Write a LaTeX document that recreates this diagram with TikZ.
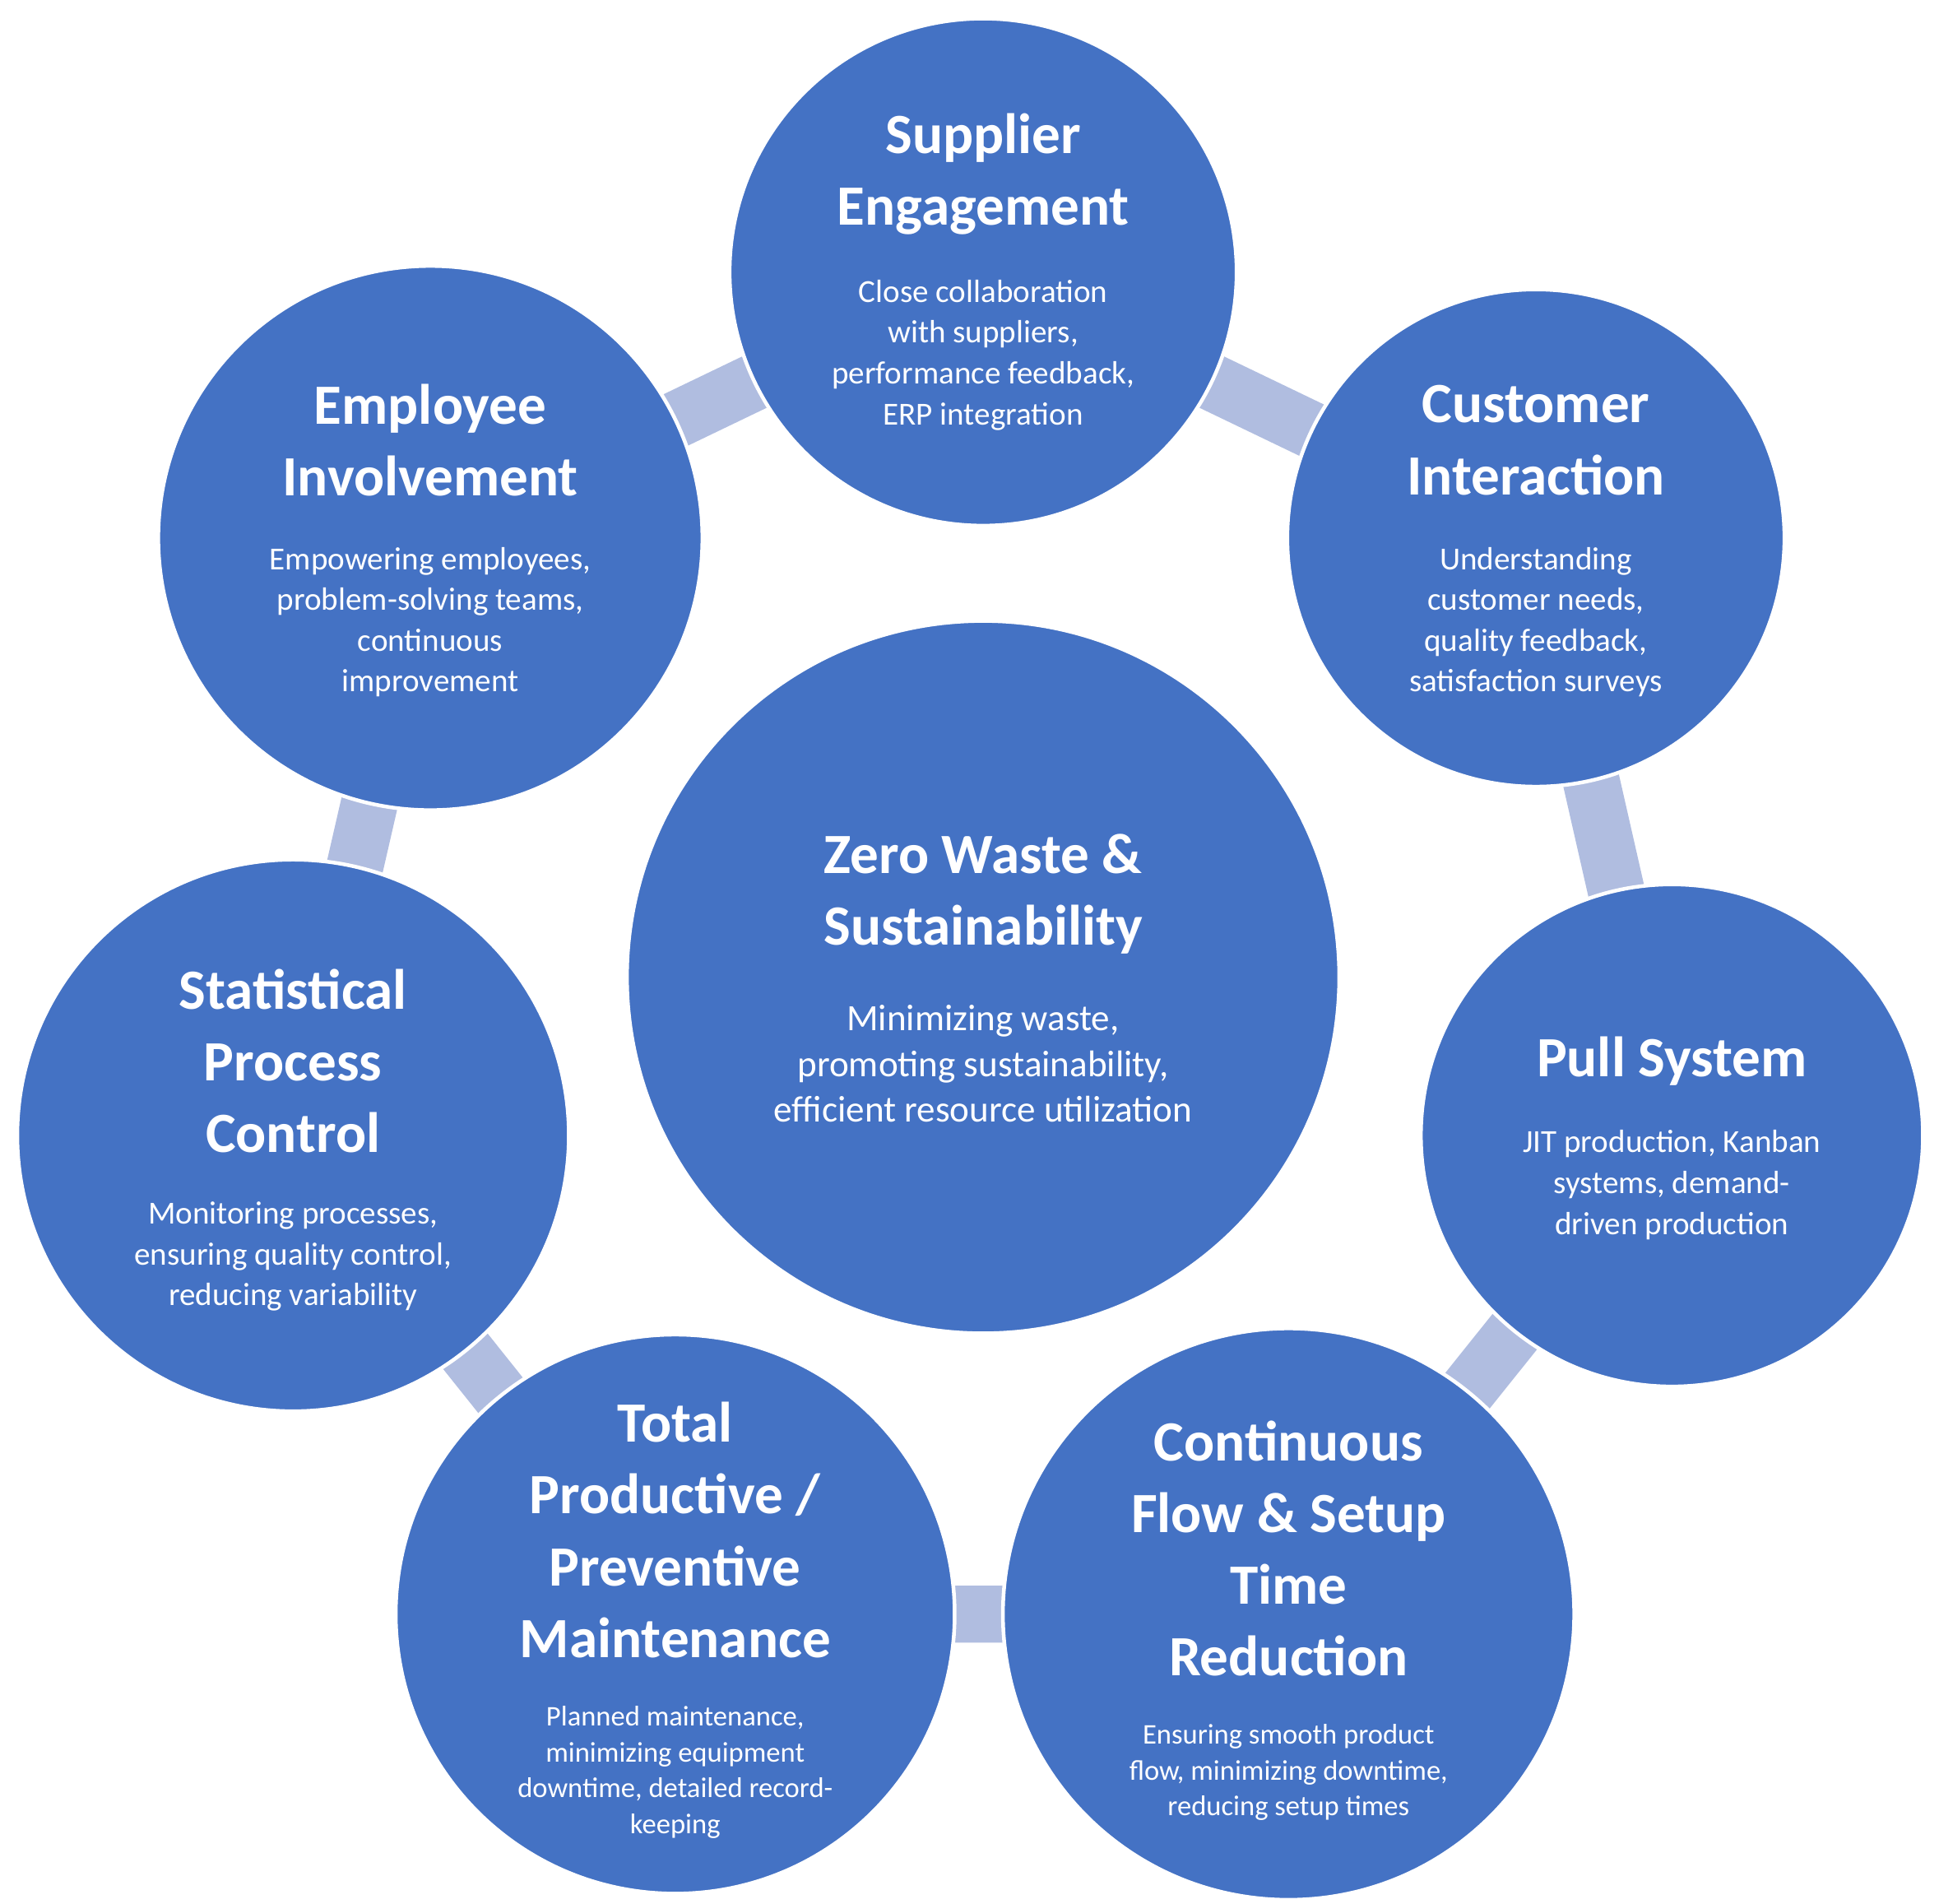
\documentclass[tikz,border=0pt]{standalone}
\usepackage{fontspec}
\setmainfont{Carlito}
\definecolor{cfill}{RGB}{68,114,196}
\definecolor{clink}{RGB}{176,189,224}
\begin{document}
\begin{tikzpicture}[x=1pt,y=-1pt,
  circ/.style={circle,fill=cfill,draw=white,line width=3pt,inner sep=0pt},
  link/.style={clink,line width=46pt},
  tit/.style={text=white,align=center,font=\fontsize{46}{58}\selectfont\bfseries},
  bod/.style={text=white,align=center,font=\fontsize{26}{33}\selectfont},
  bods/.style={text=white,align=center,font=\fontsize{23}{29}\selectfont}]
\useasboundingbox (0,0) rectangle (1568,1539);
\coordinate (S) at (795,220);
\coordinate (C) at (1242,435);
\coordinate (P) at (1352,918);
\coordinate (F) at (1042,1305);
\coordinate (T) at (546,1305);
\coordinate (Q) at (237,918);
\coordinate (E) at (348,435);
\draw[link] (S)--(C) (C)--(P) (P)--(F) (F)--(T) (T)--(Q) (Q)--(E) (E)--(S);
\node[circ,minimum size=410pt] (s) at (S) {};
\node[circ,minimum size=402pt] (c) at (C) {};
\node[circ,minimum size=406pt] (p) at (P) {};
\node[circ,minimum size=462pt] (f) at (F) {};
\node[circ,minimum size=452pt] (t) at (T) {};
\node[circ,minimum size=446pt] (q) at (Q) {};
\node[circ,minimum size=440pt] (e) at (E) {};
\node[circ,minimum size=576pt] (z) at (795,790) {};
\node[tit] (st) at (795,141) {Supplier\\Engagement};
\node[bod] (sb) at (795,287) {Close collaboration\\with suppliers,\\performance feedback,\\ERP integration};
\node[tit] (ct) at (1242,356) {Customer\\Interaction};
\node[bod] (cb) at (1242,503) {Understanding\\customer needs,\\quality feedback,\\satisfaction surveys};
\node[tit] (et) at (348,356) {Employee\\Involvement};
\node[bod] (eb) at (348,503) {Empowering employees,\\problem-solving teams,\\continuous\\improvement};
\node[tit] (zt) at (795,723) {Zero Waste \&\\Sustainability};
\node[text=white,align=center,font=\fontsize{30}{37}\selectfont] (zb) at (795,860) {Minimizing waste,\\promoting sustainability,\\efficient resource utilization};
\node[tit] (pt) at (1352,858) {Pull System};
\node[bod] (pb) at (1352,958) {JIT production, Kanban\\systems, demand-\\driven production};
\node[tit] (qt) at (237,858) {Statistical\\Process\\Control};
\node[bod] (qb) at (237,1016) {Monitoring processes,\\ensuring quality control,\\reducing variability};
\node[tit] (tt) at (546,1237) {Total\\Productive /\\Preventive\\Maintenance};
\node[bods] (tb) at (546,1433) {Planned maintenance,\\minimizing equipment\\downtime, detailed record-\\keeping};
\node[tit] (ft) at (1042,1252) {Continuous\\Flow \& Setup\\Time\\Reduction};
\node[bods] (fb) at (1042,1433) {Ensuring smooth product\\flow, minimizing downtime,\\reducing setup times};
\end{tikzpicture}
\end{document}
